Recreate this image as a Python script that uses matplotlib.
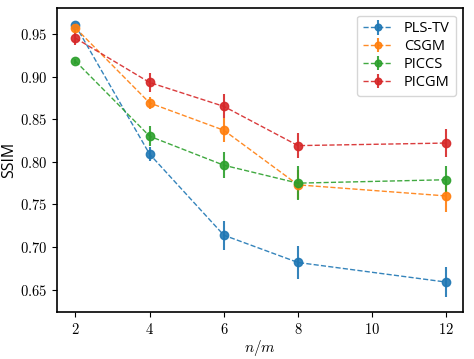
import matplotlib
matplotlib.use("Agg")
import matplotlib.pyplot as plt
from matplotlib.ticker import FuncFormatter

plt.rcParams['mathtext.fontset'] = 'cm'
plt.rcParams['axes.linewidth'] = 1.2

x = [2, 4, 6, 8, 12]
pls_tv = [0.960, 0.809, 0.714, 0.682, 0.659]
pls_tv_err = [0.003, 0.008, 0.017, 0.019, 0.018]
csgm = [0.957, 0.869, 0.837, 0.773, 0.760]
csgm_err = [0.004, 0.007, 0.014, 0.017, 0.019]
piccs = [0.918, 0.830, 0.796, 0.775, 0.779]
piccs_err = [0.003, 0.012, 0.015, 0.020, 0.016]
picgm = [0.945, 0.893, 0.865, 0.819, 0.822]
picgm_err = [0.008, 0.011, 0.014, 0.015, 0.016]

labels = ['PLS-TV', 'CSGM', 'PICCS', 'PICGM']
series = [pls_tv, csgm, piccs, picgm]
errs = [pls_tv_err, csgm_err, piccs_err, picgm_err]
colors = ['#1f77b4', '#ff7f0e', '#2ca02c', '#d62728']

fig, ax = plt.subplots(figsize=(4.74, 3.59), dpi=100)
for y, e, lab, c in zip(series, errs, labels, colors):
    ax.errorbar(x, y, yerr=e, fmt='o--', color=c, label=lab, linewidth=1,
                markersize=6, elinewidth=1.5, alpha=0.9)

ax.set_xlim(1.5, 12.45)
ax.set_ylim(0.624, 0.980)
ax.set_xticks([2, 4, 6, 8, 10, 12])
ax.set_yticks([0.65, 0.70, 0.75, 0.80, 0.85, 0.90, 0.95])
ax.xaxis.set_major_formatter(FuncFormatter(lambda v, p: f'${v:.0f}$'))
ax.yaxis.set_major_formatter(FuncFormatter(lambda v, p: f'${v:.2f}$'))
ax.tick_params(labelsize=10.5)
ax.set_xlabel('$n/m$', fontsize=11, labelpad=1)
ax.set_ylabel('SSIM', fontsize=11.5, family='Open Sans', labelpad=2)
ax.legend(loc='upper right', prop={'family': 'Open Sans', 'size': 10.5},
          labelspacing=0.2, markerscale=0.8, borderaxespad=0.5)
fig.subplots_adjust(left=0.12, right=0.977, top=0.977, bottom=0.131)
fig.savefig('out.png', dpi=100)
